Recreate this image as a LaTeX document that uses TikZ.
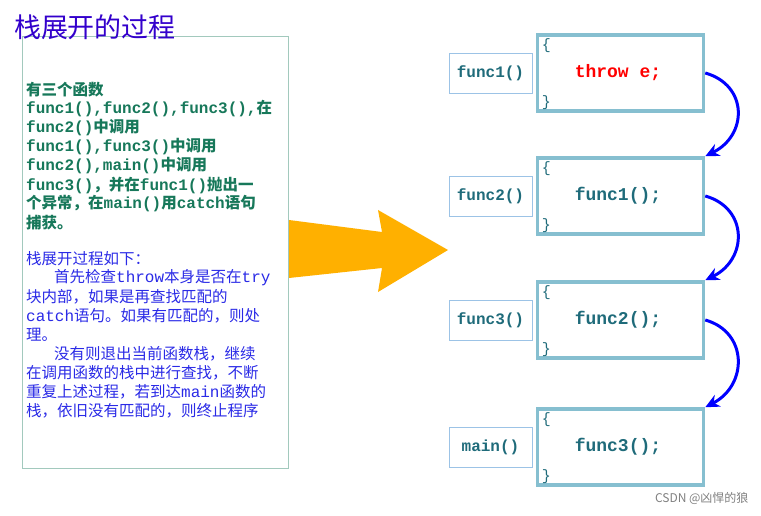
\documentclass[tikz,border=0pt]{standalone}
\usepackage{fontspec}
\setmainfont{Noto Sans CJK SC}
\newfontfamily\mo{Liberation Mono}
\newcommand{\m}[1]{{\mo\fontsize{16}{16}\selectfont #1}}
\usetikzlibrary{arrows.meta}
\definecolor{grn}{HTML}{17785A}
\definecolor{blu}{HTML}{2A2AE6}
\definecolor{frm}{HTML}{86BFD0}
\definecolor{lbl}{HTML}{9CC3E6}
\definecolor{code}{HTML}{1F6B7A}
\begin{document}
\begin{tikzpicture}[x=1pt,y=-1pt,
 gl/.style={anchor=west,inner sep=0,text=grn,font=\fontsize{15.5}{15.5}\selectfont\bfseries},
 bl/.style={anchor=west,inner sep=0,text=blu,font=\fontsize{15.5}{15.5}\selectfont},
 lab/.style={draw=lbl,line width=0.8pt,minimum width=83pt,minimum height=40pt,text=code,font=\mo\fontsize{16}{16}\selectfont\bfseries},
 cbox/.style={draw=frm,line width=3.5pt,minimum width=166pt,minimum height=76pt},
 ctext/.style={text=code,font=\mo\fontsize{18}{18}\selectfont\bfseries},
 brace/.style={text=code,font=\mo\fontsize{15}{15}\selectfont,inner sep=0},
 curv/.style={draw=blue,line width=3pt,-{Stealth[length=14pt,width=13pt]}}]
\useasboundingbox (0,0) rectangle (761,516);
\node[draw=grn!40,line width=0.8pt,minimum width=266pt,minimum height=432pt] (lbox) at (155,252) {};
\node[inner sep=0,text=blue!60!violet,font=\fontsize{27}{27}\selectfont] (title) at (95,27) {栈展开的过程};
\node[gl] (g1) at (26,90) {有三个函数};
\node[gl] (g2) at (26,109) {\m{func1(),func2(),func3(),}在};
\node[gl] (g3) at (26,128) {\m{func2()}中调用};
\node[gl] (g4) at (26,147) {\m{func1(),func3()}中调用};
\node[gl] (g5) at (26,166) {\m{func2(),main()}中调用};
\node[gl] (g6) at (26,185) {\m{func3()}，并在\m{func1()}抛出一};
\node[gl] (g7) at (26,204) {个异常，在\m{main()}用\m{catch}语句};
\node[gl] (g8) at (26,223) {捕获。};
\node[bl] (b1) at (26,259) {栈展开过程如下：};
\node[bl] (b2) at (26,278) {\hspace{28pt}首先检查\m{throw}本身是否在\m{try}};
\node[bl] (b3) at (26,297) {块内部，如果是再查找匹配的};
\node[bl] (b4) at (26,316) {\m{catch}语句。如果有匹配的，则处};
\node[bl] (b5) at (26,335) {理。};
\node[bl] (b6) at (26,354) {\hspace{28pt}没有则退出当前函数栈，继续};
\node[bl] (b7) at (26,373) {在调用函数的栈中进行查找，不断};
\node[bl] (b8) at (26,392) {重复上述过程，若到达\m{main}函数的};
\node[bl] (b9) at (26,411) {栈，依旧没有匹配的，则终止程序};
\fill[color={rgb,255:red,255;green,176;blue,0}] (289,220) -- (382,232) -- (378,210) -- (448,250) -- (378,292) -- (382,268) -- (289,278) -- cycle;
\foreach \n/\y/\t in {1/73/func1(),2/196/func2(),3/320/func3(),4/447/main()}{
 \node[lab] (l\n) at (490.5,\y) {\t};
 \node[cbox] (c\n) at (620.5,\y) {};
 \node[brace,anchor=north west] (ob\n) at ([shift={(6,5)}]c\n.north west) {\{};
 \node[brace,anchor=south west] (cb\n) at ([shift={(6,-3)}]c\n.south west) {\}};
}
\node[ctext,text=red] (t1) at (618,73) {throw e;};
\node[ctext] (t2) at (618,196) {func1();};
\node[ctext] (t3) at (618,320) {func2();};
\node[ctext] (t4) at (618,447) {func3();};
\draw[curv] (c1.east) .. controls (748,85) and (748,135) .. (c2.north east);
\draw[curv] (c2.east) .. controls (748,208) and (748,259) .. (c3.north east);
\draw[curv] (c3.east) .. controls (748,332) and (748,385) .. (c4.north east);
\node[text=gray,font=\fontsize{12}{12}\selectfont,anchor=east] (wm) at (752,498) {CSDN @凶悍的狼};
\end{tikzpicture}
\end{document}
